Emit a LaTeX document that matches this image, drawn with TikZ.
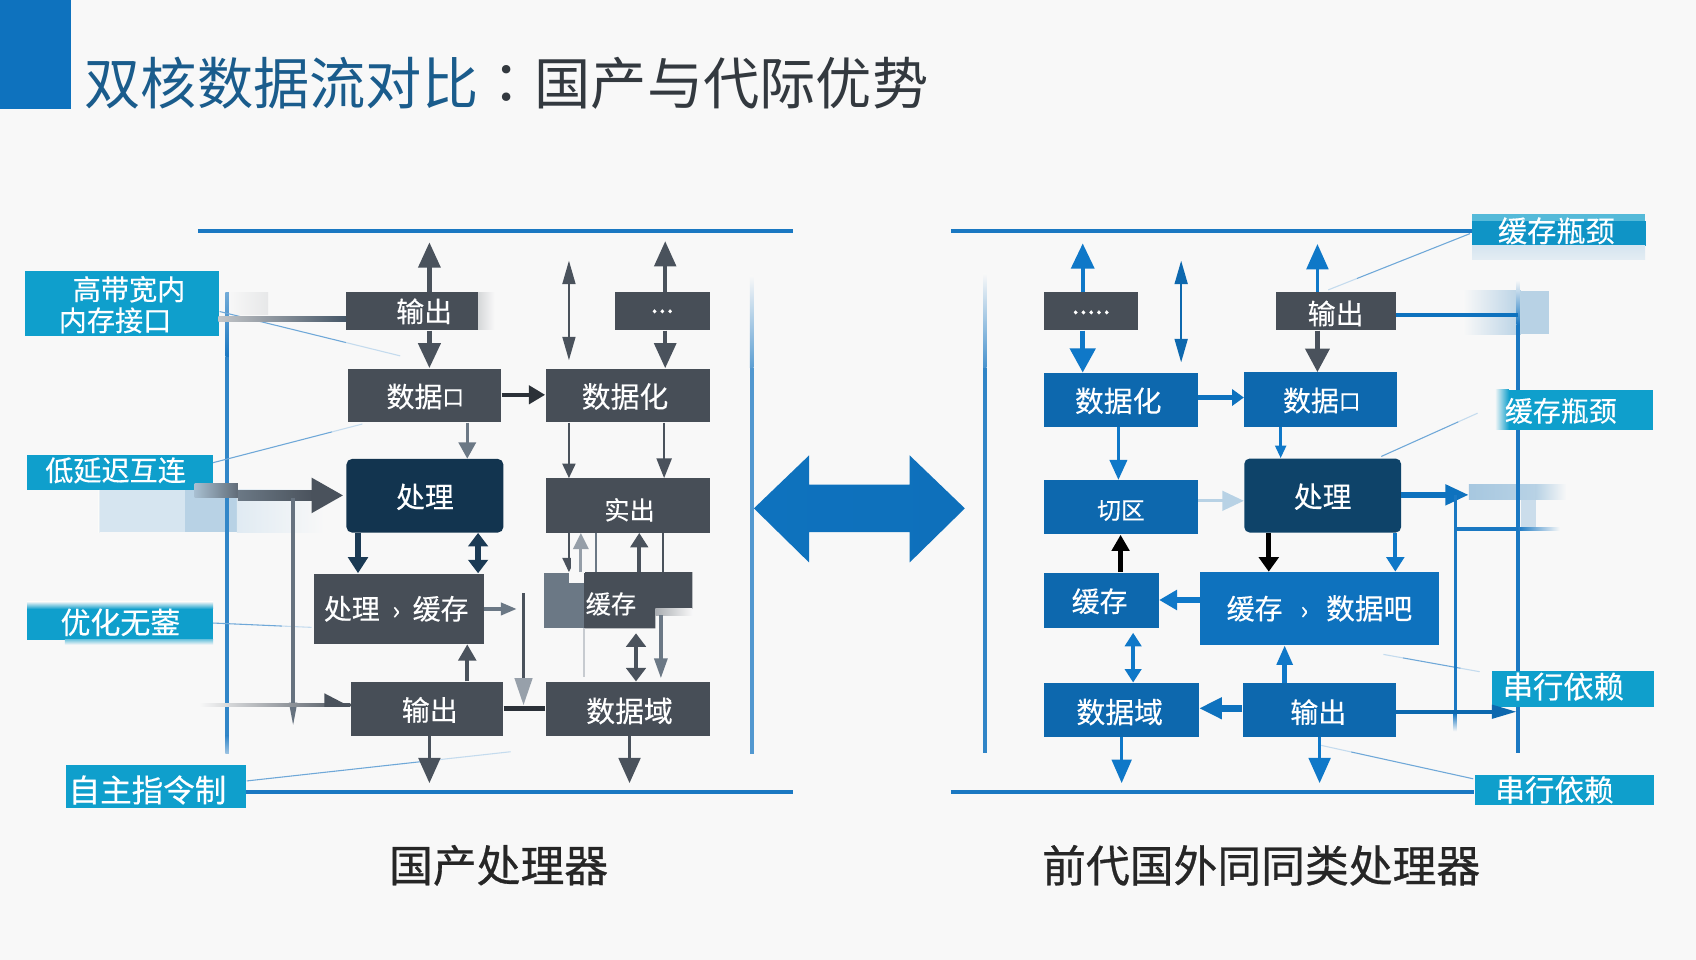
\documentclass[tikz,border=0pt]{standalone}
\usepackage{fontspec}
\setmainfont{Noto Sans CJK SC}
\newfontfamily\medfont[FakeBold=0.7]{Noto Sans CJK SC}
\newfontfamily\nodefont[FakeBold=0.3]{Noto Sans CJK SC}
\newfontfamily\tcfont{Noto Sans CJK TC}
\usetikzlibrary{arrows.meta,calc}
\definecolor{bgc}{HTML}{F8F8F8}
\definecolor{gbox}{HTML}{474E57}
\definecolor{gar}{HTML}{4A525C}
\definecolor{gmid}{HTML}{6B7885}
\definecolor{gdark}{HTML}{2B3138}
\definecolor{navy}{HTML}{12344F}
\definecolor{navyar}{HTML}{1B3A54}
\definecolor{lab}{HTML}{0F9FCC}
\definecolor{rbox}{HTML}{0D68AE}
\definecolor{rbox2}{HTML}{0E72BE}
\definecolor{rnavy}{HTML}{0E4369}
\definecolor{abl}{HTML}{0F78C8}
\definecolor{frm}{HTML}{1A78C2}
\definecolor{lead}{HTML}{6FA8D8}
\definecolor{lead2}{HTML}{C4DBEE}
\definecolor{titleb}{HTML}{1A5C8C}
\definecolor{titleg}{HTML}{33393F}
\definecolor{patch}{HTML}{B8D2E5}
\definecolor{patchb}{HTML}{D6E5F0}
\tikzset{
  big/.tip={Triangle[width=12pt,length=14pt]},
  mid/.tip={Triangle[width=9.6pt,length=9pt]},
  slim/.tip={Triangle[width=7.2pt,length=13pt]},
  tiny/.tip={Triangle[width=7.2pt,length=7.5pt]},
  dbl/.tip={Triangle[width=10.8pt,length=7.5pt]},
  boxg/.style={fill=gbox,text=white,inner sep=0pt,font=\nodefont\fontsize{15.5}{18}\selectfont},
  boxb/.style={fill=rbox,text=white,inner sep=0pt,font=\nodefont\fontsize{15.5}{18}\selectfont},
  boxn/.style={fill=navy,rounded corners=3pt,text=white,inner sep=0pt,font=\nodefont\fontsize{16}{18}\selectfont},
  boxr/.style={fill=rnavy,rounded corners=3pt,text=white,inner sep=0pt,font=\nodefont\fontsize{16}{18}\selectfont},
  tag/.style={fill=lab,text=white,inner sep=0pt,font=\nodefont\fontsize{15.6}{17}\selectfont},
  frame/.style={draw=frm,line width=2.2pt},
  leader/.style={draw=lead,line width=0.6pt},
  leaderf/.style={draw=lead2,line width=0.6pt},
  gl/.style={draw=gar,line width=#1},
  bl/.style={draw=abl,line width=#1},
}
\newcommand{\bx}[7]{%
  \pgfmathsetlengthmacro\mybw{(#4-#2)*0.6pt}%
  \pgfmathsetlengthmacro\mybh{(#5-#3)*0.6pt}%
  \node[#6,minimum width=\mybw,minimum height=\mybh,anchor=north west] (#1) at (#2,#3) {#7};}
\newcommand{\txtdn}[2]{\raisebox{0pt}[\dimexpr\height+#1+#1\relax][\depth]{#2}}
\newcommand{\txtup}[2]{\raisebox{0pt}[\height][\dimexpr\depth+#1+#1\relax]{#2}}
\begin{document}
\begin{tikzpicture}[x=0.6pt,y=-0.6pt]
\useasboundingbox (0,0) rectangle (1568,887.5);
\fill[bgc] (0,0) rectangle (1568,887.5);
\fill[rbox2] (0,0) rectangle (66,101);
\node[anchor=west,inner sep=0pt,font=\fontsize{31.2}{36}\selectfont] (title) at (78,77)
  {\textcolor{titleb}{双核数据流对比}\textcolor{titleg}{{\tcfont ：}国产与代际优势}};

% soft patches, left
\shade[left color=bgc,right color=patchb] (91,453) rectangle (92,492);
\fill[patchb] (92,453) rectangle (171,492);
\fill[patch] (171,453) rectangle (219,492);
\shade[left color=patchb!70!bgc,right color=bgc] (219,453) rectangle (300,492);
\shade[left color=bgc,right color=bgc!90!gar] (210,270) rectangle (248,291);
\shade[left color=gar!20!bgc,right color=bgc] (442,270) rectangle (457,305);
% soft patches, right
\shade[left color=bgc,right color=patch] (1353,269) rectangle (1406,309);
\fill[patch] (1406,269) rectangle (1432,309);
\shade[left color=patch!90!rbox,right color=patch] (1358,448) rectangle (1420,462);
\shade[left color=patch,right color=bgc] (1420,448) rectangle (1448,462);
\fill[patch!70!bgc] (1406,462) rectangle (1420,491);

% frames
\coordinate (ftl) at (183,214); \coordinate (ftr) at (733,214);
\coordinate (fbl) at (227,732); \coordinate (fbr) at (733,732);
\coordinate (gtl) at (879,214); \coordinate (gtr) at (1361,214);
\coordinate (gbl) at (879,732); \coordinate (gbr) at (1363,732);
\draw[frame] (ftl) -- (ftr);
\draw[frame] (fbl) -- (fbr);
\draw[frame] (gtl) -- (gtr);
\draw[frame] (gbl) -- (gbr);
\shade[top color=bgc!40!frm,bottom color=frm] (208.3,270) rectangle (211.7,330);
\fill[frm!90!white] (208.3,330) rectangle (211.7,680);
\shade[top color=frm!90!white,bottom color=frm!40!bgc] (208.3,680) rectangle (211.7,697);
\shade[top color=bgc,bottom color=frm!70!bgc] (693.3,255) rectangle (696.7,340);
\fill[frm!75!bgc] (693.3,340) rectangle (696.7,697);
\shade[top color=bgc,bottom color=frm!80!bgc] (908.8,253) rectangle (912.2,340);
\fill[frm!90!bgc] (908.8,340) rectangle (912.2,696);
\shade[top color=bgc,bottom color=frm] (1401.8,259) rectangle (1405.2,300);
\fill[frm] (1401.8,300) rectangle (1405.2,696);

% leaders
\coordinate (la) at (203,288); \coordinate (lb) at (370,329);
\coordinate (lc) at (196,428); \coordinate (ld) at (335,392);
\coordinate (le) at (197,576); \coordinate (lf) at (288,580);
\coordinate (lg) at (228,722); \coordinate (lh) at (472,695);
\coordinate (li) at (1359,216); \coordinate (lj) at (1228,268);
\coordinate (lk) at (1366,382); \coordinate (ll) at (1277,422);
\coordinate (lm) at (1368,621); \coordinate (ln) at (1279,605);
\coordinate (lo) at (1362,720); \coordinate (lp) at (1221,689);
\draw[leader] (la) -- ($(la)!.7!(lb)$); \draw[leaderf] ($(la)!.7!(lb)$) -- (lb);
\draw[leader] (lc) -- ($(lc)!.8!(ld)$); \draw[leaderf] ($(lc)!.8!(ld)$) -- (ld);
\draw[leader] (le) -- ($(le)!.7!(lf)$); \draw[leaderf] ($(le)!.7!(lf)$) -- (lf);
\draw[leader] (lg) -- ($(lg)!.7!(lh)$); \draw[leaderf] ($(lg)!.7!(lh)$) -- (lh);
\draw[leader] (li) -- ($(li)!.8!(lj)$); \draw[leaderf] ($(li)!.8!(lj)$) -- (lj);
\draw[leaderf] (lk) -- ($(lk)!.2!(ll)$); \draw[leader] ($(lk)!.2!(ll)$) -- (ll);
\draw[leaderf] (lm) -- ($(lm)!.2!(ln)$); \draw[leader] ($(lm)!.2!(ln)$) -- ($(lm)!.8!(ln)$); \draw[leaderf] ($(lm)!.8!(ln)$) -- (ln);
\draw[leader] (lo) -- ($(lo)!.8!(lp)$); \draw[leaderf] ($(lo)!.8!(lp)$) -- (lp);

% odd left cache shape
\fill[gmid] (503,530) rectangle (540,581);
\fill[bgc] (526,529) rectangle (540,539);
\fill[gbox] (540,529) -- (640,529) -- (640,563) -- (606,563) -- (606,581) -- (540,581) -- cycle;
\shade[left color=gar!45!bgc,right color=bgc] (606,563) rectangle (640,569);

% left nodes
\bx{lo1}{320}{270}{442}{305}{boxg}{\hspace*{13pt}输出}
\bx{ld1}{568}{270}{656}{305}{boxg}{...}
\bx{lk}{321}{340.5}{463}{390}{boxg}{\hspace*{1pt}\txtdn{0.6pt}{数据\raisebox{1pt}{\fontsize{12}{12}\selectfont 口}}}
\bx{lh}{504}{340.5}{656}{390}{boxg}{\hspace*{-3pt}\fontsize{16}{18}\selectfont\txtdn{0.6pt}{数据化}}
\bx{lp}{320}{424}{465}{492}{boxn}{\txtdn{0.6pt}{处理}}
\bx{ls}{504}{442}{656}{492}{boxg}{\fontsize{14}{16}\selectfont\hspace*{2pt}\txtdn{2.4pt}{实出}}
\bx{lm}{290}{530}{447}{595}{boxg}{\hspace*{-3pt}处理\hspace{7pt}{\fontsize{14}{14}\selectfont ›}\hspace{7pt}缓存}
\bx{lcz}{503}{529}{640}{581}{text=white,inner sep=0pt,font=\nodefont\fontsize{14}{16}\selectfont}{\hspace*{-8.4pt}\txtdn{1.8pt}{缓存}}
\bx{lo2}{324}{630}{465}{680}{boxg}{\hspace*{3pt}\txtdn{0.6pt}{输出}}
\bx{ly}{504}{630}{656}{680}{boxg}{\hspace*{2pt}\fontsize{16}{18}\selectfont\txtdn{1.2pt}{数据域}}

% left tags
\bx{t1}{23}{250}{202}{310}{tag}{\raisebox{-6.3pt}[0pt][0pt]{\begin{tabular}{@{}l@{}}\hspace*{7.8pt}高带宽内\\[-1pt]内存接口\end{tabular}}}
\bx{t2}{25}{420}{197}{453}{tag}{\hspace*{-5.4pt}\txtup{1.2pt}{低延迟互连}}
\shade[top color=bgc,bottom color=lab] (25,556) rectangle (197,563);
\bx{t3}{25}{563}{197}{591}{tag,font=\nodefont\fontsize{16.6}{18}\selectfont}{\raisebox{-5.1pt}[0pt][0pt]{优化无蓥}}
\shade[top color=lab!60!bgc,bottom color=bgc] (60,591) rectangle (197,596);
\bx{t4}{61}{707}{227}{747}{tag,font=\nodefont\fontsize{17.5}{19}\selectfont}{\hspace*{-9.6pt}\txtdn{1.8pt}{自主指令制}}

% left arrows
\coordinate (e1) at (397,224);
\draw[gl=2.4pt,-{big}] (lo1.north -| 397,0) -- (e1);
\draw[gl=3pt,-{big}] (lo1.south -| 397,0) -- (lk.north -| 397,0);
\coordinate (e2) at (526,241); \coordinate (e3) at (526,333);
\draw[gl=1pt,{slim}-{slim}] (e2) -- (e3);
\coordinate (e4) at (615,223);
\draw[gl=2pt,-{big}] (ld1.north -| 615,0) -- (e4);
\draw[gl=2.4pt,-{big}] (ld1.south -| 615,0) -- (lh.north -| 615,0);
\draw[draw=gdark,line width=2.4pt,-{Triangle[width=10pt,length=9pt]}] (lk.east |- 0,365) -- (lh.west |- 0,365);
\draw[draw=gmid,line width=1.4pt,-{mid}] (lk.south -| 432,0) -- (lp.north -| 432,0);
\draw[gl=1.2pt,-{Triangle[width=7.2pt,length=8pt]}] (lh.south -| 526,0) -- (ls.north -| 526,0);
\draw[gl=1.2pt,-{Triangle[width=8.4pt,length=11pt]}] (lh.south -| 614,0) -- (ls.north -| 614,0);
\shade[left color=patch!85!gar,right color=gar!80!patch] (180,447) rectangle (220,460);
\shade[left color=gar!70!patch,right color=gar] (220,453.5) rectangle (290,462.5);
\coordinate (h1) at (288,458);
\draw[fill=gar,draw=none] (288,441.5) -- (317,458) -- (288,474.5) -- cycle;
\coordinate (e5) at (271,460); \coordinate (e6) at (271,673);
\draw[draw=gmid!85!gar,line width=2pt,-{Triangle[width=4pt,length=14pt]}] (e5) -- (e6);
\draw[draw=navyar,line width=3pt,-{Triangle[width=10.8pt,length=9pt]}] (lp.south -| 331,0) -- (lm.north -| 331,0);
\draw[draw=navyar,line width=3pt,{dbl}-{dbl}] (lp.south -| 442,0) -- (lm.north -| 442,0);
\coordinate (e7) at (478,563);
\draw[draw=gmid,line width=2.4pt,-{Triangle[width=6.6pt,length=9pt]}] (lm.east |- 0,563) -- (e7);
\coordinate (e8) at (484,548.5); \coordinate (e9) at (484,652);
\draw[draw=gar,line width=1.8pt,-{Triangle[width=9.6pt,length=15pt,color=gmid!70!white]}] (e8) -- (e9);
\draw[gl=2.4pt,-{mid}] (lo2.north -| 432,0) -- (lm.south -| 432,0);
\draw[draw=gdark,line width=2.4pt] (lo2.east |- 0,655) -- (ly.west |- 0,655);
\shade[left color=bgc,right color=gar] (184,650) rectangle (324,653.5);
\fill[gar] (300,641) -- (324,653.5) -- (300,653.5) -- cycle;
\coordinate (e10) at (397,724);
\draw[gl=1.8pt,-{big}] (lo2.south -| 397,0) -- (e10);
\coordinate (e11) at (582,724);
\draw[gl=1.8pt,-{big}] (ly.south -| 582,0) -- (e11);
\draw[gl=1.2pt,-{Triangle[width=7.2pt,length=8pt]}] (ls.south -| 526,0) -- (lcz.north -| 526,0);
\fill[bgc] (528,494) rectangle (541,530);
\draw[draw=gmid!70!bgc,line width=1.6pt,-{Triangle[width=8.4pt,length=9pt]}] (lcz.north -| 537,0) -- (ls.south -| 537,0);
\draw[draw=gmid,line width=1.6pt] (lcz.north -| 551,0) -- (ls.south -| 551,0);
\draw[gl=2.4pt,-{Triangle[width=9.6pt,length=8pt]}] (lcz.north -| 591,0) -- (ls.south -| 591,0);
\draw[gl=1.2pt] (lcz.north -| 613,0) -- (ls.south -| 613,0);
\coordinate (e12) at (588,585.5);
\draw[gl=2.4pt,{dbl}-{dbl}] (e12) -- (ly.north -| 588,0);
\coordinate (e13) at (611,568.6); \coordinate (e14) at (611,627);
\draw[draw=gmid,line width=1.8pt,-{Triangle[width=7.2pt,length=11pt]}] (e13) -- (e14);
\coordinate (e15) at (540,581); \coordinate (e16) at (540,626);
\draw[draw=gmid!35!bgc,line width=1pt] (e15) -- (e16);
% cable from the tag to output
\shade[left color=bgc!70!gar,right color=gar!90!frm] (202,292.5) rectangle (320,297.5);

% right tags
\fill[lab!70!bgc] (1361,198) rectangle (1521,204);
\bx{t5}{1361}{204}{1521}{227}{tag,fill=lab!80!rbox,font=\nodefont\fontsize{16.2}{18}\selectfont}{\hspace*{-3pt}\raisebox{-4.66pt}[0pt][0pt]{缓存瓶颈}}
\shade[top color=patchb,bottom color=patchb!60!bgc] (1361,227) rectangle (1521,240);
\shade[left color=bgc,right color=lab] (1382,360) rectangle (1395,397);
\bx{t6}{1395}{360}{1528}{397}{tag,text=white,font=\nodefont\fontsize{15.5}{18}\selectfont}{\hspace*{-22.6pt}\txtdn{0.6pt}{缓存瓶颈}}
\bx{t7}{1379}{620}{1529}{653}{tag,font=\nodefont\fontsize{16.8}{18}\selectfont}{\hspace*{-10.8pt}\txtup{1.2pt}{串行依赖}}
\bx{t8}{1363}{716}{1529}{744}{tag,font=\nodefont\fontsize{16.4}{18}\selectfont}{\hspace*{-11pt}串行依赖}

% right nodes
\bx{ro0}{965}{270}{1052}{305}{boxg}{\txtdn{0.6pt}{.....}}
\bx{ro1}{1179}{270}{1290}{305}{boxg}{\txtdn{1.2pt}{输出}}
\bx{rh}{965}{344.5}{1107}{394}{boxb}{\hspace*{-3pt}\fontsize{16}{18}\selectfont\txtdn{0.6pt}{数据化}}
\bx{rk}{1150}{344}{1291.6}{394}{boxb}{\hspace*{1pt}\txtdn{0.6pt}{数据\raisebox{1pt}{\fontsize{12}{12}\selectfont 口}}}
\bx{rq}{965}{443.6}{1107}{493.7}{boxb,font=\nodefont\fontsize{13.2}{16}\selectfont}{\txtdn{1.8pt}{切区}}
\bx{rp}{1150}{423.6}{1295}{492}{boxr}{\txtdn{0.6pt}{处理}}
\bx{rc}{965}{529}{1071}{580}{boxb}{\hspace*{-2pt}\txtdn{0.6pt}{缓存}}
\bx{rm}{1109}{528.5}{1330}{595.7}{boxb,fill=rbox2}{缓存\hspace{10pt}{\fontsize{14}{14}\selectfont ›}\hspace{10pt}{\fontsize{15.9}{18}\selectfont 数据吧}}
\bx{ry}{965}{631}{1108}{681}{boxb}{\hspace*{-2pt}\fontsize{16}{18}\selectfont\txtdn{1.2pt}{数据域}}
\bx{ro2}{1148.5}{631}{1290}{681}{boxb}{\hspace*{-1pt}\txtdn{1.2pt}{输出}}

% right arrows
\coordinate (r1) at (1001,225);
\draw[bl=2.4pt,-{Triangle[width=12.6pt,length=14pt]}] (ro0.north -| 1001,0) -- (r1);
\draw[bl=3pt,-{Triangle[width=13.8pt,length=13.5pt]}] (ro0.south -| 1001,0) -- (rh.north -| 1001,0);
\coordinate (r2) at (1092,241); \coordinate (r3) at (1092,335);
\draw[draw=rbox,line width=1pt,{slim}-{slim}] (r2) -- (r3);
\coordinate (r4) at (1218,225.6);
\draw[bl=1.8pt,-{big}] (ro1.north -| 1218,0) -- (r4);
\draw[gl=2.4pt,-{Triangle[width=13.2pt,length=13pt]}] (ro1.south -| 1218,0) -- (rk.north -| 1218,0);
\coordinate (r5) at (1403,291);
\draw[draw=rbox2,line width=2.4pt] (ro1.east |- r5) -- (r5);
\draw[draw=rbox2,line width=2.4pt,-{Triangle[width=9pt,length=6.6pt]}] (rh.east |- 0,367.5) -- (rk.west |- 0,367.5);
\draw[bl=1.5pt,-{Triangle[width=9.6pt,length=11pt]}] (rh.south -| 1034,0) -- (rq.north -| 1034,0);
\draw[bl=1.5pt,-{Triangle[width=6pt,length=7pt]}] (rk.south -| 1184,0) -- (rp.north -| 1184,0);
\draw[draw=patch,line width=1.8pt,-{Triangle[width=10.8pt,length=12pt]}] (rq.east |- 0,463) -- (rp.west |- 0,463);
\coordinate (r6) at (1358,457.5);
\draw[draw=rbox2,line width=3.6pt,-{Triangle[width=10.8pt,length=13pt]}] (rp.east |- r6) -- (r6);
\coordinate (r7) at (1345.5,457.5); \coordinate (r8) at (1345.5,660);
\draw[draw=frm,line width=1.8pt] (r7) -- (r8);
\shade[top color=frm,bottom color=bgc] (1344,660) rectangle (1347,676);
\coordinate (r9) at (1345.5,489); \coordinate (r10) at (1403,489);
\draw[draw=frm,line width=1.8pt] (r9) -- (r10);
\shade[left color=frm,right color=bgc] (1403,487.5) rectangle (1442,490.5);
\draw[draw=black,line width=3pt,-{Triangle[width=10.8pt,length=8pt]}] (rp.south -| 1173,0) -- (rm.north -| 1173,0);
\draw[bl=2.4pt,-{Triangle[width=9.6pt,length=8pt]}] (rp.south -| 1290,0) -- (rm.north -| 1290,0);
\draw[draw=black,line width=3pt,-{Triangle[width=9.6pt,length=9pt]}] (rc.north -| 1036,0) -- (rq.south -| 1036,0);
\draw[bl=3pt,-{Triangle[width=10.8pt,length=10pt]}] (rm.west |- 0,554.7) -- (rc.east |- 0,554.7);
\coordinate (r11) at (1047.6,585);
\draw[bl=2.4pt,{Triangle[width=9pt,length=7.5pt]}-{Triangle[width=9pt,length=7.5pt]}] (r11) -- (ry.north -| 1047.6,0);
\draw[bl=3pt,-{Triangle[width=8.4pt,length=11pt]}] (ro2.north -| 1187.7,0) -- (rm.south -| 1187.7,0);
\draw[draw=rbox2,line width=3.6pt,-{Triangle[width=11.4pt,length=12.6pt]}] (ro2.west |- 0,654.8) -- (ry.east |- 0,654.8);
\coordinate (r12) at (1402.6,658);
\draw[draw=rbox,line width=2.4pt,-{Triangle[width=7.2pt,length=14pt]}] (ro2.east |- r12) -- (r12);
\coordinate (r13) at (1037,724); \coordinate (r14) at (1220,724);
\draw[bl=1.8pt,-{Triangle[width=10.8pt,length=13pt]}] (ry.south -| 1037,0) -- (r13);
\draw[bl=1.8pt,-{big}] (ro2.south -| 1220,0) -- (r14);

% central double arrow
\shade[left color=rbox2,right color=rbox2!80!rbox] (697,470) -- (748,421) -- (748,448) -- (841,448) -- (841,421) -- (892,470) -- (841,520) -- (841,492) -- (748,492) -- (748,520) -- cycle;

% captions
\node[inner sep=0pt,font=\medfont\fontsize{24.3}{28}\selectfont,text=black!85] (c1) at (461,800) {国产处理器};
\node[inner sep=0pt,font=\medfont\fontsize{24.3}{28}\selectfont,text=black!85] (c2) at (1166,800) {前代国外同同类处理器};
\end{tikzpicture}
\end{document}
